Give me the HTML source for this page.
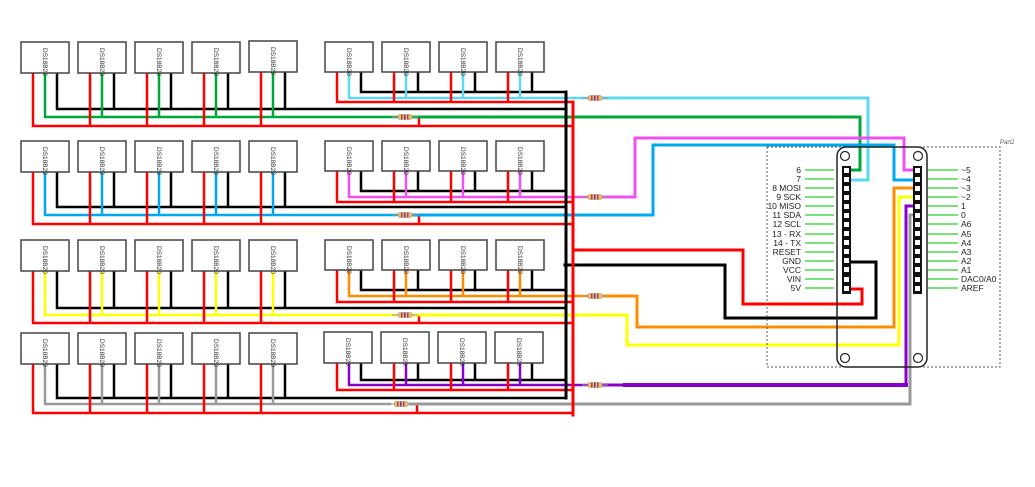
<!DOCTYPE html>
<html><head><meta charset="utf-8"><style>
html,body{margin:0;padding:0;background:#fff;}
svg{display:block;font-family:"Liberation Sans",sans-serif;}
.b{fill:#fff;stroke:#444;stroke-width:1.5}
.t{font-size:6.5px;fill:#333}
.pl{font-size:8.5px;fill:#222}
.g{stroke:#66e066;stroke-width:1.8}
</style></head><body>
<svg width="1035" height="487" viewBox="0 0 1035 487" xmlns="http://www.w3.org/2000/svg">
<defs>
<g id="res"><line x1="-6" y1="0" x2="20" y2="0" stroke="#999" stroke-width="1"/><rect x="0" y="-2.5" width="14" height="5" rx="2" fill="#e0c080" stroke="#b09050" stroke-width="0.6"/><rect x="3" y="-2.5" width="1.5" height="5" fill="#c33"/><rect x="6" y="-2.5" width="1.5" height="5" fill="#639"/><rect x="9" y="-2.5" width="1.5" height="5" fill="#c33"/></g>
</defs>
<g fill="none" stroke-linecap="square">
<g stroke-width="2.5">
<path d="M57 73V109M114 73V109M171 73V109M228 73V109M285 73V109M57 109H566" stroke="#000"/>
<path d="M45 73V117M102 73V117M159 73V117M216 73V117M273 73V117M45 117H398" stroke="#00a83c"/>
<path d="M33 73V126M90 73V126M147 73V126M204 73V126M261 73V126M33 126H573M419 117V126" stroke="#f00"/>
<path d="M361 72V92M418 72V92M475 72V92M532 72V92M361 92H566" stroke="#000"/>
<path d="M349 72V98M406 72V98M463 72V98M520 72V98M349 98H588" stroke="#5ed8f0"/>
<path d="M337 72V102M394 72V102M451 72V102M508 72V102M337 102H573" stroke="#f00"/>
<path d="M603 98H868V180H850" stroke="#5ed8f0" stroke-width="3"/>
<path d="M412 117H860V170H850" stroke="#00a83c" stroke-width="3"/>
</g>
<g stroke-width="2.5">
<path d="M57 172V207M114 172V207M171 172V207M228 172V207M285 172V207M57 207H566" stroke="#000"/>
<path d="M45 172V215M102 172V215M159 172V215M216 172V215M273 172V215M45 215H398" stroke="#00a8f0"/>
<path d="M33 172V224M90 172V224M147 172V224M204 172V224M261 172V224M33 224H573M419 215V224" stroke="#f00"/>
<path d="M361 171V191M418 171V191M475 171V191M532 171V191M361 191H566" stroke="#000"/>
<path d="M349 171V197M406 171V197M463 171V197M520 171V197M349 197H588" stroke="#f050f0"/>
<path d="M337 171V202M394 171V202M451 171V202M508 171V202M337 202H573" stroke="#f00"/>
<path d="M603 197H635V138H904V170H916" stroke="#f050f0" stroke-width="3"/>
<path d="M412 215H653V145H894V180H916" stroke="#00a8f0" stroke-width="3"/>
</g>
<g stroke-width="2.5">
<path d="M57 271V308M114 271V308M171 271V308M228 271V308M285 271V308M57 308H566" stroke="#000"/>
<path d="M45 271V315M102 271V315M159 271V315M216 271V315M273 271V315M45 315H398" stroke="#ff0"/>
<path d="M33 271V323M90 271V323M147 271V323M204 271V323M261 271V323M33 323H573M419 315V323" stroke="#f00"/>
<path d="M361 270V290M418 270V290M475 270V290M532 270V290M361 290H566" stroke="#000"/>
<path d="M349 270V296M406 270V296M463 270V296M520 270V296M349 296H588" stroke="#ff8c00"/>
<path d="M337 270V302M394 270V302M451 270V302M508 270V302M337 302H573" stroke="#f00"/>
<path d="M603 296H637V327H894V188H916" stroke="#ff8c00" stroke-width="3"/>
<path d="M412 315H627V345H899V197H916" stroke="#ff0" stroke-width="3"/>
<path d="M573 250H743V304H862V289H850" stroke="#f00" stroke-width="3"/>
<path d="M565 265H725V318H876V262H850" stroke="#000" stroke-width="3"/>
</g>
<g stroke-width="2.5">
<path d="M57 364V398M114 364V398M171 364V398M228 364V398M285 364V398M57 398H566" stroke="#000"/>
<path d="M45 364V404M102 364V404M159 364V404M216 364V404M273 364V404M45 404H390" stroke="#999"/>
<path d="M33 364V413M90 364V413M147 364V413M204 364V413M261 364V413M33 413H573M417 404V413" stroke="#f00"/>
<path d="M361 363V380M418 363V380M475 363V380M532 363V380M361 380H566" stroke="#000"/>
<path d="M349 363V385M406 363V385M463 363V385M520 363V385M349 385H588" stroke="#8800cc"/>
<path d="M337 363V390M394 363V390M451 363V390M508 363V390M337 390H573" stroke="#f00"/>
<path d="M603 385H906V206H916" stroke="#8800cc" stroke-width="3"/>
<path d="M625 385H906" stroke="#8800cc" stroke-width="4"/>
<path d="M410 404H910V215H916" stroke="#999" stroke-width="3"/>
</g>
<path d="M566 92V398" stroke="#000" stroke-width="3"/>
<path d="M573 102V415" stroke="#f00" stroke-width="3"/>
</g>
<use href="#res" x="588" y="98"/><use href="#res" x="398" y="117"/>
<use href="#res" x="588" y="197"/><use href="#res" x="398" y="215"/>
<use href="#res" x="588" y="296"/><use href="#res" x="398" y="315"/>
<use href="#res" x="588" y="385"/><use href="#res" x="394" y="404"/>

<g>
<g transform="translate(21,42)"><rect class="b" width="48" height="31"/><text class="t" transform="translate(22,6) rotate(90)">DS18B20</text></g>
<g transform="translate(78,42)"><rect class="b" width="48" height="31"/><text class="t" transform="translate(22,6) rotate(90)">DS18B20</text></g>
<g transform="translate(135,42)"><rect class="b" width="48" height="31"/><text class="t" transform="translate(22,6) rotate(90)">DS18B20</text></g>
<g transform="translate(192,42)"><rect class="b" width="48" height="31"/><text class="t" transform="translate(22,6) rotate(90)">DS18B20</text></g>
<g transform="translate(249,41)"><rect class="b" width="48" height="31"/><text class="t" transform="translate(22,6) rotate(90)">DS18B20</text></g>
<g transform="translate(325,42)"><rect class="b" width="48" height="30"/><text class="t" transform="translate(22,6) rotate(90)">DS18B20</text></g>
<g transform="translate(382,42)"><rect class="b" width="48" height="30"/><text class="t" transform="translate(22,6) rotate(90)">DS18B20</text></g>
<g transform="translate(439,42)"><rect class="b" width="48" height="30"/><text class="t" transform="translate(22,6) rotate(90)">DS18B20</text></g>
<g transform="translate(496,42)"><rect class="b" width="48" height="30"/><text class="t" transform="translate(22,6) rotate(90)">DS18B20</text></g>

<g transform="translate(21,141)"><rect class="b" width="48" height="31"/><text class="t" transform="translate(22,6) rotate(90)">DS18B20</text></g>
<g transform="translate(78,141)"><rect class="b" width="48" height="31"/><text class="t" transform="translate(22,6) rotate(90)">DS18B20</text></g>
<g transform="translate(135,141)"><rect class="b" width="48" height="31"/><text class="t" transform="translate(22,6) rotate(90)">DS18B20</text></g>
<g transform="translate(192,141)"><rect class="b" width="48" height="31"/><text class="t" transform="translate(22,6) rotate(90)">DS18B20</text></g>
<g transform="translate(249,141)"><rect class="b" width="48" height="31"/><text class="t" transform="translate(22,6) rotate(90)">DS18B20</text></g>
<g transform="translate(325,141)"><rect class="b" width="48" height="30"/><text class="t" transform="translate(22,6) rotate(90)">DS18B20</text></g>
<g transform="translate(382,141)"><rect class="b" width="48" height="30"/><text class="t" transform="translate(22,6) rotate(90)">DS18B20</text></g>
<g transform="translate(439,141)"><rect class="b" width="48" height="30"/><text class="t" transform="translate(22,6) rotate(90)">DS18B20</text></g>
<g transform="translate(496,141)"><rect class="b" width="48" height="30"/><text class="t" transform="translate(22,6) rotate(90)">DS18B20</text></g>

<g transform="translate(21,240)"><rect class="b" width="48" height="31"/><text class="t" transform="translate(22,6) rotate(90)">DS18B20</text></g>
<g transform="translate(78,240)"><rect class="b" width="48" height="31"/><text class="t" transform="translate(22,6) rotate(90)">DS18B20</text></g>
<g transform="translate(135,240)"><rect class="b" width="48" height="31"/><text class="t" transform="translate(22,6) rotate(90)">DS18B20</text></g>
<g transform="translate(192,240)"><rect class="b" width="48" height="31"/><text class="t" transform="translate(22,6) rotate(90)">DS18B20</text></g>
<g transform="translate(249,240)"><rect class="b" width="48" height="31"/><text class="t" transform="translate(22,6) rotate(90)">DS18B20</text></g>
<g transform="translate(325,240)"><rect class="b" width="48" height="30"/><text class="t" transform="translate(22,6) rotate(90)">DS18B20</text></g>
<g transform="translate(382,240)"><rect class="b" width="48" height="30"/><text class="t" transform="translate(22,6) rotate(90)">DS18B20</text></g>
<g transform="translate(439,240)"><rect class="b" width="48" height="30"/><text class="t" transform="translate(22,6) rotate(90)">DS18B20</text></g>
<g transform="translate(496,240)"><rect class="b" width="48" height="30"/><text class="t" transform="translate(22,6) rotate(90)">DS18B20</text></g>

<g transform="translate(21,333)"><rect class="b" width="48" height="31"/><text class="t" transform="translate(22,6) rotate(90)">DS18B20</text></g>
<g transform="translate(78,333)"><rect class="b" width="48" height="31"/><text class="t" transform="translate(22,6) rotate(90)">DS18B20</text></g>
<g transform="translate(135,333)"><rect class="b" width="48" height="31"/><text class="t" transform="translate(22,6) rotate(90)">DS18B20</text></g>
<g transform="translate(192,333)"><rect class="b" width="48" height="31"/><text class="t" transform="translate(22,6) rotate(90)">DS18B20</text></g>
<g transform="translate(249,333)"><rect class="b" width="48" height="31"/><text class="t" transform="translate(22,6) rotate(90)">DS18B20</text></g>
<g transform="translate(324,332)"><rect class="b" width="48" height="31"/><text class="t" transform="translate(22,6) rotate(90)">DS18B20</text></g>
<g transform="translate(381,332)"><rect class="b" width="48" height="31"/><text class="t" transform="translate(22,6) rotate(90)">DS18B20</text></g>
<g transform="translate(438,332)"><rect class="b" width="48" height="31"/><text class="t" transform="translate(22,6) rotate(90)">DS18B20</text></g>
<g transform="translate(495,332)"><rect class="b" width="48" height="31"/><text class="t" transform="translate(22,6) rotate(90)">DS18B20</text></g>
</g>

<rect x="767" y="147" width="233" height="220" fill="none" stroke="#555" stroke-width="1" stroke-dasharray="2,2"/>
<text x="1000" y="144" font-size="6" fill="#555">Part2</text>
<rect x="837" y="147" width="90" height="220" rx="9" fill="none" stroke="#222" stroke-width="1.5"/>
<circle cx="845" cy="156" r="4.5" fill="#fff" stroke="#222" stroke-width="1.2"/>
<circle cx="918" cy="156" r="4.5" fill="#fff" stroke="#222" stroke-width="1.2"/>
<circle cx="845" cy="358" r="4.5" fill="#fff" stroke="#222" stroke-width="1.2"/>
<circle cx="918" cy="358" r="4.5" fill="#fff" stroke="#222" stroke-width="1.2"/>
<rect x="842" y="166" width="9" height="128" fill="#111"/>
<rect x="913" y="166" width="9" height="128" fill="#111"/>
<g fill="#fff">
<rect x="844" y="168" width="5" height="5"/><rect x="844" y="177" width="5" height="5"/><rect x="844" y="186" width="5" height="5"/><rect x="844" y="195" width="5" height="5"/><rect x="844" y="204" width="5" height="5"/><rect x="844" y="213" width="5" height="5"/><rect x="844" y="222" width="5" height="5"/><rect x="844" y="231" width="5" height="5"/><rect x="844" y="240" width="5" height="5"/><rect x="844" y="249" width="5" height="5"/><rect x="844" y="258" width="5" height="5"/><rect x="844" y="267" width="5" height="5"/><rect x="844" y="277" width="5" height="5"/><rect x="844" y="286" width="5" height="5"/>
<rect x="915" y="168" width="5" height="5"/><rect x="915" y="177" width="5" height="5"/><rect x="915" y="186" width="5" height="5"/><rect x="915" y="195" width="5" height="5"/><rect x="915" y="204" width="5" height="5"/><rect x="915" y="213" width="5" height="5"/><rect x="915" y="222" width="5" height="5"/><rect x="915" y="231" width="5" height="5"/><rect x="915" y="240" width="5" height="5"/><rect x="915" y="249" width="5" height="5"/><rect x="915" y="258" width="5" height="5"/><rect x="915" y="267" width="5" height="5"/><rect x="915" y="277" width="5" height="5"/><rect x="915" y="286" width="5" height="5"/>
</g>
<g class="g">
<path d="M805 170H834M805 179H834M805 188H834M805 197H834M805 206H834M805 215H834M805 224H834M805 234H834M805 243H834M805 252H834M805 261H834M805 270H834M805 279H834M805 288H834"/>
<path d="M928 170H958M928 179H958M928 188H958M928 197H958M928 206H958M928 215H958M928 224H958M928 234H958M928 243H958M928 252H958M928 261H958M928 270H958M928 279H958M928 288H958"/>
</g>
<g class="pl" text-anchor="end">
<text x="801" y="173">6</text><text x="801" y="182">7</text><text x="801" y="191">8 MOSI</text><text x="801" y="200">9  SCK</text><text x="801" y="209">10 MISO</text><text x="801" y="218">11 SDA</text><text x="801" y="227">12 SCL</text><text x="801" y="237">13 - RX</text><text x="801" y="246">14 - TX</text><text x="801" y="255">RESET</text><text x="801" y="264">GND</text><text x="801" y="273">VCC</text><text x="801" y="282">VIN</text><text x="801" y="291">5V</text>
</g>
<g class="pl">
<text x="961" y="173">~5</text><text x="961" y="182">~4</text><text x="961" y="191">~3</text><text x="961" y="200">~2</text><text x="961" y="209">1</text><text x="961" y="218">0</text><text x="961" y="227">A6</text><text x="961" y="237">A5</text><text x="961" y="246">A4</text><text x="961" y="255">A3</text><text x="961" y="264">A2</text><text x="961" y="273">A1</text><text x="961" y="282">DAC0/A0</text><text x="961" y="291">AREF</text>
</g>
</svg>
</body></html>
